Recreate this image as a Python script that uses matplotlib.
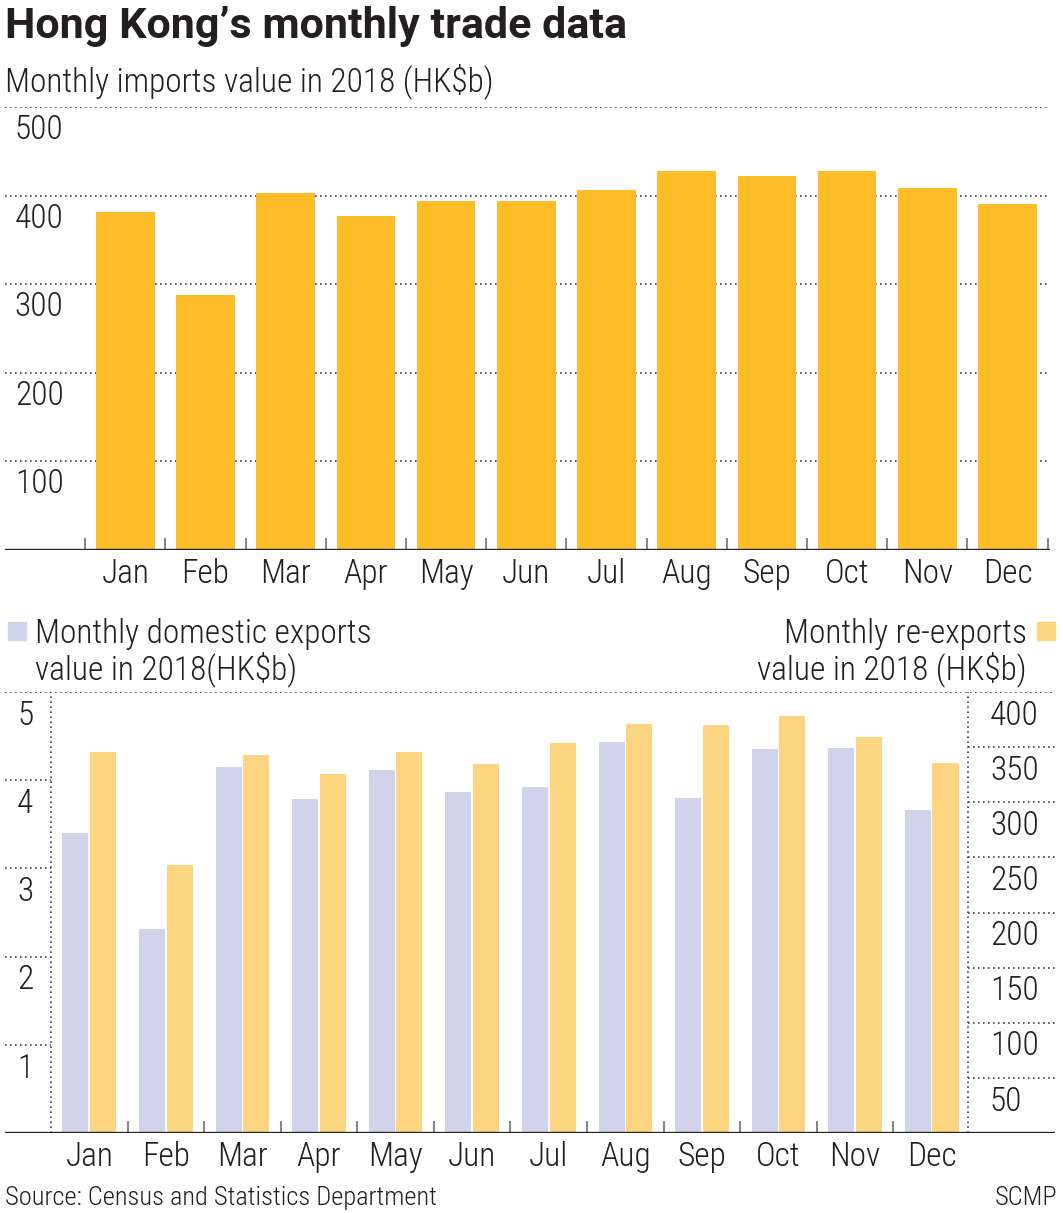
import matplotlib
matplotlib.use("Agg")
import matplotlib.pyplot as plt
import numpy as np

plt.rcParams["font.family"] = ["Roboto Condensed", "Liberation Sans Narrow", "DejaVu Sans"]
plt.rcParams["font.weight"] = "light"

months = ["Jan", "Feb", "Mar", "Apr", "May", "Jun", "Jul", "Aug", "Sep", "Oct", "Nov", "Dec"]
imports = [382, 288, 403, 377, 394, 394, 406, 428, 422, 428, 409, 391]
domestic_exports = [3.40, 2.31, 4.15, 3.79, 4.12, 3.87, 3.92, 4.43, 3.80, 4.35, 4.36, 3.66]
re_exports = [346, 243, 343, 326, 346, 335, 354, 371, 370, 378, 359, 336]
imports_ticks = [100, 200, 300, 400, 500]
domestic_ticks = [1, 2, 3, 4, 5]
re_ticks = [50, 100, 150, 200, 250, 300, 350, 400]

TEXT = "#231f20"
C_IMP = "#fcbd28"
C_DOM = "#d0d3ea"
C_RE = "#fdd581"
DOT = (0, (1, 2))
FS = 24

W, H = 1063, 1213
fig = plt.figure(figsize=(W / 100, H / 100), dpi=100)

def box(x0, y0, x1, y1):
    # pixel box (top-left origin) -> figure fraction rect
    return [x0 / W, 1 - y1 / H, (x1 - x0) / W, (y1 - y0) / H]

x = np.arange(len(months))

# ---- top chart: imports
ax1 = fig.add_axes(box(5, 107, 1050, 550))
ax1.set_xlim(-1.5, 11.53)
ax1.set_ylim(0, 500)
for v in imports_ticks:
    ax1.axhline(v, color="#444444", lw=1.2, ls=DOT, zorder=0.5)
    ax1.text(-0.77, v - 26, str(v), ha="right", va="center", fontsize=FS, color=TEXT)
ax1.bar(x, imports, width=0.73, color=C_IMP, zorder=2)
ax1.axhline(0, color="#222222", lw=2.4, zorder=3)

# ---- bottom chart: domestic exports (left) & re-exports (right)
ax2 = fig.add_axes(box(5, 692, 1055, 1133))
ax2.set_xlim(-1.1, 12.61)
ax2.set_ylim(0, 5)
ax3 = ax2.twinx()
ax3.set_ylim(0, 400)
ax3.set_xlim(-1.1, 12.61)

ax2.bar(x - 0.18, domestic_exports, width=0.34, color=C_DOM, zorder=2)
ax3.bar(x + 0.18, re_exports, width=0.34, color=C_RE, zorder=2)

ax2.axhline(5, color="#444444", lw=1.2, ls=DOT)
for v in domestic_ticks[:-1]:
    ax2.plot([-1.1, -0.5], [v, v], color="#444444", lw=1.2, ls=DOT)
for v in domestic_ticks:
    ax2.text(-0.73, v - 0.27, str(v), ha="right", va="center", fontsize=FS, color=TEXT)
for v in re_ticks[:-1]:
    ax3.plot([11.48, 12.61], [v, v], color="#444444", lw=1.2, ls=DOT)
for v in re_ticks:
    ax3.text(11.76, v - 21.5, str(v), ha="left", va="center", fontsize=FS, color=TEXT)
ax2.plot([-0.5, -0.5], [0, 5], color="#444444", lw=1.2, ls=DOT)
ax2.plot([11.48, 11.48], [0, 5], color="#444444", lw=1.2, ls=DOT)
ax3.axhline(0, color="#222222", lw=2.4, zorder=3)

# ticks, spines
for ax, minors in [(ax1, np.arange(-0.5, 12, 1)), (ax2, np.arange(0.5, 11, 1))]:
    ax.set_xticks(x)
    ax.set_xticklabels(months, fontsize=FS, color=TEXT)
    ax.set_xticks(minors, minor=True)
    ax.tick_params(axis="x", which="major", length=0, pad=6)
    ax.tick_params(axis="x", which="minor", length=9, width=1.5, color="#888888", direction="in")
for ax in [ax1, ax2, ax3]:
    for s in ax.spines.values():
        s.set_visible(False)
    ax.set_yticks([])
ax3.tick_params(axis="x", which="both", length=0)

# ---- texts
fig.text(5 / W, 1 - 38 / H, "Hong Kong’s monthly trade data", fontsize=31, fontweight="bold",
         family=["Roboto", "DejaVu Sans"], color=TEXT, va="baseline", ha="left")
fig.text(5 / W, 1 - 91 / H, "Monthly imports value in 2018 (HK$b)", fontsize=FS,
         color=TEXT, va="baseline", ha="left")

fig.patches.append(plt.Rectangle((8 / W, 1 - 640 / H), 18 / W, 18 / H, color=C_DOM,
                                 transform=fig.transFigure, figure=fig))
fig.patches.append(plt.Rectangle((1037 / W, 1 - 640 / H), 18 / W, 18 / H, color=C_RE,
                                 transform=fig.transFigure, figure=fig))
fig.text(35 / W, 1 - 643 / H, "Monthly domestic exports", fontsize=FS, color=TEXT, va="baseline")
fig.text(35 / W, 1 - 679 / H, "value in 2018(HK$b)", fontsize=FS, color=TEXT, va="baseline")
fig.text(1027 / W, 1 - 643 / H, "Monthly re-exports", fontsize=FS, color=TEXT, va="baseline", ha="right")
fig.text(1027 / W, 1 - 679 / H, "value in 2018 (HK$b)", fontsize=FS, color=TEXT, va="baseline", ha="right")

fig.text(5 / W, 1 - 1205 / H, "Source: Census and Statistics Department", fontsize=19,
         color=TEXT, va="baseline")
fig.text(1057 / W, 1 - 1205 / H, "SCMP", fontsize=19, color=TEXT, va="baseline", ha="right")

fig.savefig("out.png", dpi=100)
